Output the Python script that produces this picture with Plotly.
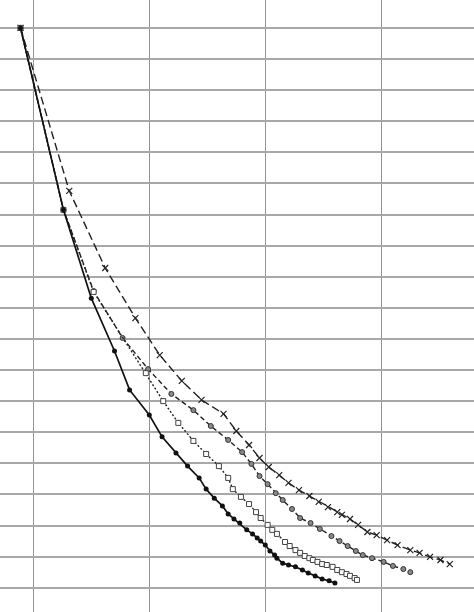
import plotly.graph_objects as go

# series values (grid units: x grid every 1, y grid every 1)
x_solid = [-0.11, 0.26, 0.50, 0.70, 0.83, 1.00, 1.11, 1.23, 1.33, 1.43, 1.49, 1.56, 1.63,
           1.68, 1.73, 1.78, 1.84, 1.89, 1.93, 1.96, 2.00, 2.04, 2.08, 2.10, 2.15, 2.20,
           2.26, 2.32, 2.37, 2.43, 2.49, 2.55, 2.60]
y_solid = [18.0, 12.15, 9.31, 7.61, 6.36, 5.55, 4.85, 4.33, 3.91, 3.53, 3.17, 2.88, 2.63,
           2.37, 2.21, 2.08, 1.86, 1.73, 1.60, 1.50, 1.37, 1.18, 1.05, 0.95, 0.79, 0.73,
           0.67, 0.57, 0.47, 0.38, 0.28, 0.22, 0.15]

x_dotted = [-0.11, 0.26, 0.52, 0.97, 1.12, 1.25, 1.38, 1.49, 1.60, 1.68, 1.72, 1.79, 1.86,
            1.92, 1.96, 2.02, 2.06, 2.10, 2.17, 2.21, 2.26, 2.30, 2.34, 2.38, 2.41, 2.45,
            2.49, 2.53, 2.58, 2.62, 2.66, 2.70, 2.73, 2.77, 2.79]
y_dotted = [18.0, 12.15, 9.51, 6.90, 6.00, 5.30, 4.72, 4.30, 3.91, 3.53, 3.17, 2.92, 2.69,
            2.43, 2.24, 2.02, 1.86, 1.73, 1.47, 1.34, 1.21, 1.12, 1.02, 0.95, 0.89, 0.83,
            0.76, 0.73, 0.67, 0.57, 0.50, 0.44, 0.38, 0.31, 0.25]

x_dashed = [-0.11, 0.26, 0.52, 0.77, 0.99, 1.19, 1.38, 1.53, 1.68, 1.80, 1.88, 1.95, 2.02,
            2.09, 2.15, 2.23, 2.30, 2.39, 2.47, 2.57, 2.64, 2.71, 2.78, 2.84, 2.92, 3.02,
            3.10, 3.19, 3.25]
y_dashed = [18.0, 12.15, 9.54, 8.03, 7.03, 6.23, 5.71, 5.20, 4.75, 4.36, 3.98, 3.59, 3.33,
            3.04, 2.82, 2.53, 2.24, 2.08, 1.89, 1.66, 1.50, 1.34, 1.18, 1.05, 0.95, 0.83,
            0.70, 0.60, 0.50]

x_cross = [-0.11, 0.31, 0.62, 0.88, 1.09, 1.28, 1.45, 1.64, 1.75, 1.86, 1.95, 2.03, 2.12,
           2.20, 2.29, 2.38, 2.46, 2.54, 2.62, 2.66, 2.73, 2.80, 2.88, 2.96, 3.05, 3.14,
           3.25, 3.33, 3.42, 3.51, 3.59]
y_cross = [18.0, 12.76, 10.28, 8.67, 7.48, 6.65, 6.04, 5.59, 5.04, 4.59, 4.17, 3.88, 3.62,
           3.37, 3.14, 2.95, 2.76, 2.59, 2.43, 2.34, 2.21, 2.02, 1.79, 1.69, 1.53, 1.37,
           1.21, 1.12, 0.99, 0.89, 0.76]

fig = go.Figure()

fig.add_trace(go.Scatter(
    x=x_cross, y=y_cross, mode='lines+markers',
    line=dict(color='#222222', width=1.4, dash='8px,4px'),
    marker=dict(symbol='x-thin', size=6, line=dict(color='#222222', width=1.2))
))
fig.add_trace(go.Scatter(
    x=x_dashed, y=y_dashed, mode='lines+markers',
    line=dict(color='#222222', width=1.4, dash='5px,3px'),
    marker=dict(symbol='circle', size=5, color='#8a8a8a', line=dict(color='#333333', width=1))
))
fig.add_trace(go.Scatter(
    x=x_dotted, y=y_dotted, mode='lines+markers',
    line=dict(color='#222222', width=1.4, dash='2px,2px'),
    marker=dict(symbol='square', size=5, color='white', line=dict(color='#444444', width=1))
))
fig.add_trace(go.Scatter(
    x=x_solid, y=y_solid, mode='lines+markers',
    line=dict(color='#111111', width=1.7),
    marker=dict(symbol='circle', size=5, color='#111111')
))

fig.update_layout(
    width=474,
    height=612,
    margin=dict(l=0, r=0, t=0, b=0),
    plot_bgcolor='white',
    paper_bgcolor='white',
    showlegend=False
)
fig.update_xaxes(range=[-0.287, 3.799], dtick=1, tick0=0, showgrid=True,
                 gridcolor='#949494', gridwidth=1, zeroline=False,
                 showticklabels=False, ticks='')
fig.update_yaxes(range=[-0.781, 18.897], dtick=1, tick0=0, showgrid=True,
                 gridcolor='#a8a8a8', gridwidth=1.5, zeroline=False,
                 showticklabels=False, ticks='')

# drop the browser's default page margin so the plot sits at the corner
fig.write_html("out.html", config={'displayModeBar': False},
               post_script="document.body.style.margin='0';document.body.style.overflow='hidden';")
